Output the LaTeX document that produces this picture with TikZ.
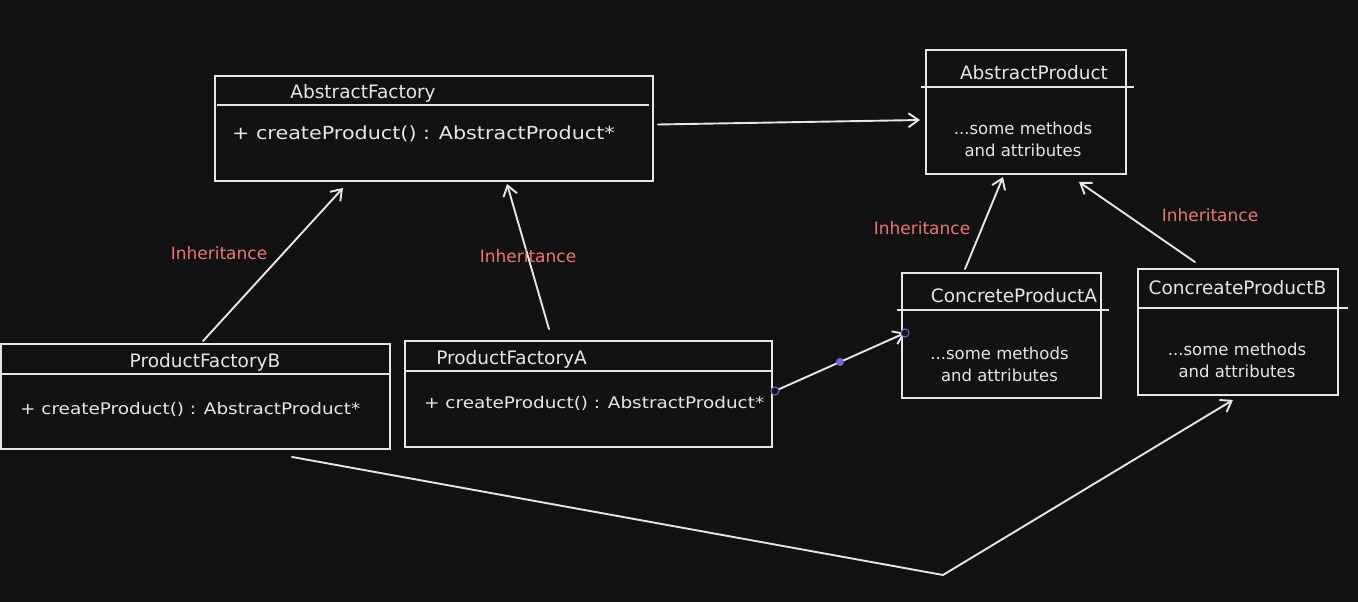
\documentclass[tikz,border=0pt]{standalone}
\usepackage{fontspec}
\setmainfont{DejaVu Sans}
\newfontfamily\wideface{DejaVu Sans}[FakeStretch=1.15]
\usepackage{xcolor}
\usepackage{tikz}
\usetikzlibrary{positioning,arrows.meta}
\definecolor{boardDark}{HTML}{121212}
\definecolor{chalkWhite}{HTML}{E6E6E6}
\definecolor{noteRed}{HTML}{F07474}
\definecolor{handlePurple}{HTML}{6F68D8}

\begin{document}
\begin{tikzpicture}[
  x=1pt,
  y=-1pt,
  classbox/.style={draw=chalkWhite, line width=1.9pt, inner sep=0pt},
  divider/.style={draw=chalkWhite, line width=1.9pt},
  titletext/.style={text=chalkWhite, inner sep=0pt, font=\fontsize{18.5}{22}\selectfont},
  optext/.style={text=chalkWhite, inner sep=0pt, anchor=west, font=\wideface\fontsize{18}{22}\selectfont},
  smallop/.style={optext, font=\wideface\fontsize{16}{20}\selectfont},
  bodytext/.style={text=chalkWhite, inner sep=0pt, align=center, font=\fontsize{16.5}{22}\selectfont},
  inhlabel/.style={text=noteRed, inner sep=0pt, font=\fontsize{17}{20}\selectfont},
  arrow/.style={-{Straight Barb[length=10pt,width=14pt]}, line width=1.9pt, line cap=round, draw=chalkWhite},
  handle/.style={circle, draw=handlePurple, fill=boardDark, line width=1pt, minimum size=8pt, inner sep=0pt},
  handledot/.style={circle, fill=handlePurple, minimum size=8pt, inner sep=0pt}
]
\fill[boardDark] (0,0) rectangle (1358,602);
\useasboundingbox (0,0) rectangle (1358,602);

% class boxes
\node[classbox, minimum width=438pt, minimum height=105pt] (af) at (434,128.5) {};
\node[classbox, minimum width=200pt, minimum height=124pt] (ap) at (1026,112) {};
\node[classbox, minimum width=199pt, minimum height=125pt] (cpa) at (1001.5,335.5) {};
\node[classbox, minimum width=200pt, minimum height=126pt] (cpb) at (1238,332) {};
\node[classbox, minimum width=389pt, minimum height=105pt] (pfb) at (195.5,396.5) {};
\node[classbox, minimum width=367pt, minimum height=106pt] (pfa) at (588.5,394) {};

% header lines
\draw[divider] ([xshift=3pt,yshift=-30pt]af.north west) -- ([xshift=-5pt,yshift=-30pt]af.north east);
\draw[divider] ([xshift=-4pt,yshift=-38pt]ap.north west) -- ([xshift=7pt,yshift=-38pt]ap.north east);
\draw[divider] ([xshift=-4pt,yshift=-38pt]cpa.north west) -- ([xshift=7pt,yshift=-38pt]cpa.north east);
\draw[divider] ([yshift=-40pt]cpb.north west) -- ([xshift=9pt,yshift=-40pt]cpb.north east);
\draw[divider] ([yshift=-31pt]pfb.north west) -- ([yshift=-31pt]pfb.north east);
\draw[divider] ([yshift=-31pt]pfa.north west) -- ([yshift=-31pt]pfa.north east);

% texts
\node[titletext] (afTitle) at (363,93) {AbstractFactory};
\node[optext] (afOp) at (232,134) {+ createProduct() : AbstractProduct*};
\node[titletext] (apTitle) at (1034,73) {AbstractProduct};
\node[bodytext] (apBody) at (1023,139.5) {...some methods\\and attributes};
\node[titletext] (cpaTitle) at (1014,296) {ConcreteProductA};
\node[bodytext] (cpaBody) at (999.5,364) {...some methods\\and attributes};
\node[titletext] (cpbTitle) at (1237.5,288) {ConcreateProductB};
\node[bodytext] (cpbBody) at (1237,360.5) {...some methods\\and attributes};
\node[titletext] (pfbTitle) at (205,362) {ProductFactoryB};
\node[smallop] (pfbOp) at (20,409) {+ createProduct() : AbstractProduct*};
\node[titletext] (pfaTitle) at (511.5,359) {ProductFactoryA};
\node[smallop] (pfaOp) at (424,403) {+ createProduct() : AbstractProduct*};

% connectors
\draw[arrow] ([xshift=4pt,yshift=4pt]af.east) -- ([xshift=-5pt,yshift=-8pt]ap.west);
\draw[arrow] ([xshift=7.5pt,yshift=2pt]pfb.north) -- ([xshift=-91pt,yshift=-6pt]af.south);
\draw[arrow] ([xshift=-39.5pt,yshift=11pt]pfa.north) -- ([xshift=73pt,yshift=-2pt]af.south);
\draw[arrow] ([xshift=-36.5pt,yshift=3pt]cpa.north) -- ([xshift=-23pt,yshift=-2pt]ap.south);
\draw[arrow] ([xshift=-43pt,yshift=6pt]cpb.north) -- ([xshift=53pt,yshift=-7pt]ap.south);
\coordinate (bend) at (943,575);
\draw[arrow] ([xshift=96.5pt,yshift=-7pt]pfb.south) -- (bend) -- ([xshift=-5pt,yshift=-4pt]cpb.south);
\draw[arrow] ([xshift=2pt,yshift=3pt]pfa.east) -- ([xshift=4pt,yshift=2.5pt]cpa.west)
  node[handledot, pos=0.5] (midHandle) {};
\node[handle] (startHandle) at ([xshift=2pt,yshift=3pt]pfa.east) {};
\node[handle] (endHandle) at ([xshift=4pt,yshift=2.5pt]cpa.west) {};

% labels
\node[inhlabel] (inhB) at (219,253) {Inheritance};
\node[inhlabel] (inhA) at (528,256) {Inheritance};
\node[inhlabel] (inhPA) at (922,228) {Inheritance};
\node[inhlabel] (inhPB) at (1210,215) {Inheritance};
\end{tikzpicture}
\end{document}
